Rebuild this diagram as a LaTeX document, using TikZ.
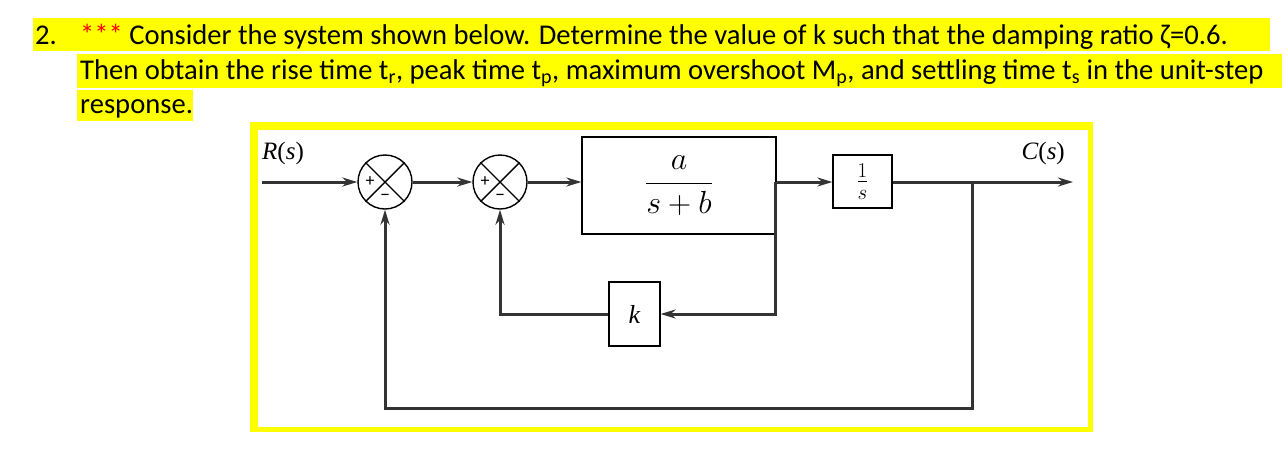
\documentclass[tikz,border=0pt]{standalone}
\usepackage{fontspec}
\usepackage{fix-cm}
\setmainfont{Carlito}
\newfontfamily\serifit{Liberation Serif}
\usetikzlibrary{arrows.meta}
\definecolor{hl}{RGB}{255,255,0}
\begin{document}
\begin{tikzpicture}[x=1pt,y=-1pt,
  blk/.style={draw,line width=1.2pt,fill=white,inner sep=0},
  sumj/.style={draw,line width=1.4pt,circle,minimum size=54pt,inner sep=0},
  sig/.style={line width=3pt,gray!40!black,-{Stealth[length=15pt,width=9pt]}},
  txt/.style={anchor=base west,inner sep=0,font=\fontsize{28.6}{34}\selectfont}]
\useasboundingbox (0,0) rectangle (1288,459);
\fill[white] (0,0) rectangle (1288,459);
% highlights
\fill[hl] (33,18) rectangle (1270,51);
\fill[hl] (77,54) rectangle (1282,88);
\fill[hl] (77,90) rectangle (193,121);
\node[txt] (n2) at (35,44) {2.};
\node[txt] (l1) at (80,44) {\textcolor{red}{***} Consider the system shown below. Determine the value of k such that the damping ratio ζ=0.6.};
\node[txt] (l2) at (80,79) {Then obtain the rise time t\textsubscript{r}, peak time t\textsubscript{p}, maximum overshoot M\textsubscript{p}, and settling time t\textsubscript{s} in the unit-step};
\node[txt] (l3) at (80,113) {response.};
% frame
\fill[hl] (250,122) rectangle (1093,432);
\fill[white] (258,130) rectangle (1088,427);
% blocks
\node[sumj] (s1) at (385,182) {};
\node[sumj] (s2) at (500,182) {};
\foreach \s in {s1,s2}{
  \draw[line width=1.4pt] (\s.north west) -- (\s.south east);
  \draw[line width=1.4pt] (\s.north east) -- (\s.south west);
  \node[font=\fontsize{18}{18}\selectfont,inner sep=0] at ([xshift=-15pt]\s.center) {+};
  \node[font=\fontsize{20}{20}\selectfont,inner sep=0] at ([yshift=-15pt]\s.center) {--};
}
\node[blk,minimum width=194pt,minimum height=97pt] (G) at (679,185.5) {\fontsize{32}{36}\selectfont$\displaystyle\frac{a}{s+b}$};
\node[blk,minimum width=59pt,minimum height=53pt] (I) at (862.5,181.5) {\fontsize{30}{34}\selectfont$\frac{1}{s}$};
\node[blk,minimum width=51pt,minimum height=64pt] (K) at (634.5,314) {\fontsize{26}{30}\selectfont\serifit\itshape k};
\node[anchor=west,inner sep=0,font=\fontsize{25}{28}\selectfont\serifit] (R) at (262,153) {\textit{R}(\textit{s})};
\node[anchor=east,inner sep=0,font=\fontsize{25}{28}\selectfont\serifit] (C) at (1065,153) {\textit{C}(\textit{s})};
\coordinate (in) at (262,182);
\coordinate (out) at (1073,182);
\coordinate (p1) at (775,182);
\coordinate (p2) at (972,182);
\draw[sig] (in) -- (s1.west);
\draw[sig] (s1.east) -- (s2.west);
\draw[sig] (s2.east) -- (G.west |- s2.east);
\draw[sig] (G.east |- p1) -- (I.west |- p1);
\draw[sig] (I.east |- p1) -- (out);
\draw[sig] (p1) |- (K.east);
\draw[sig] (K.west) -| (s2.south);
\draw[sig] (p2) |- (385,408) -- (s1.south);
\end{tikzpicture}
\end{document}
